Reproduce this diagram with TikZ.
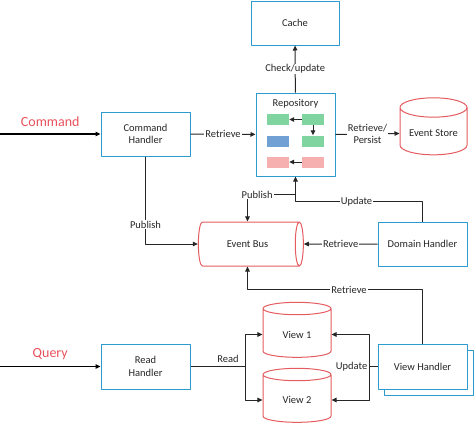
\documentclass[tikz,border=0pt]{standalone}
\usepackage{fontspec}
\setmainfont{Carlito}
\usetikzlibrary{shapes.geometric,shadows,arrows.meta}
\definecolor{boxblue}{RGB}{45,155,205}
\definecolor{cylred}{RGB}{228,92,96}
\definecolor{cmdred}{RGB}{232,82,92}
\definecolor{repgreen}{RGB}{128,212,160}
\definecolor{repblue}{RGB}{112,160,212}
\definecolor{reppink}{RGB}{246,176,176}
\begin{document}
\begin{tikzpicture}[x=1pt, y=-1pt, font=\fontsize{10.5}{12.5}\selectfont, line join=round, >={Triangle[length=5pt,width=4.5pt]},
		handler/.style={draw=boxblue, line width=1pt, fill=white, minimum width=89pt, minimum height=44pt, align=center, text=black!85},
		store/.style={draw=cylred, line width=1pt, fill=white, cylinder, shape border rotate=90, shape aspect=0.35, text=black!85},
		slot/.style={minimum width=22pt, minimum height=11pt, inner sep=0pt},
		link/.style={draw=black!85, line width=1pt},
		lbl/.style={fill=white, inner sep=1pt, text=black!85},
		entry/.style={draw=black, line width=1.8pt}]
	\useasboundingbox (0,0) rectangle (474,429);
	% handlers
	\node[handler] (cmdh) at (145.5,134) {Command\\Handler};
	\node[handler, minimum width=88pt] (cache) at (295,23) {Cache};
	\node[handler, minimum width=79pt, minimum height=83pt] (repo) at (295.5,134.5) {};
	\node[text=black!85] (repot) at (295.5,104) {Repository};
	\node[handler] (dom) at (422.5,244) {Domain Handler};
	\node[handler, minimum height=45pt] (readh) at (145.5,366.5) {Read\\Handler};
	\node[handler, minimum height=45pt, copy shadow={shadow xshift=6pt, shadow yshift=-6pt, draw=boxblue, line width=1pt}] (vh) at (422.5,366.5) {View Handler};
	% stores
	\node[store, minimum width=67pt, minimum height=57pt] (estore) at (433.5,133.5) {Event Store};
	\node[store, shape border rotate=0, shape aspect=0.6, minimum width=44pt, minimum height=105pt] (ebus) at (247.5,244) {Event Bus};
	\node[store, minimum width=68pt, minimum height=55pt] (view1) at (297,334.5) {View 1};
	\node[store, minimum width=68pt, minimum height=54pt] (view2) at (297,400) {View 2};
	% repository content
	\node[slot, fill=repgreen] (g1) at (278,119.5) {};
	\node[slot, fill=repgreen] (g2) at (313,119.5) {};
	\node[slot, fill=repblue] (b1) at (278,141) {};
	\node[slot, fill=repgreen] (g3) at (313,141) {};
	\node[slot, fill=reppink] (p1) at (278,162) {};
	\node[slot, fill=reppink] (p2) at (313,162) {};
	\draw[link, ->] (g2) -- (g1);
	\draw[link, ->] (g2) -- (g3);
	\draw[link, ->] (p2) -- (p1);
	% inputs
	\coordinate (cin) at (0,134);
	\coordinate (qin) at (0,366.5);
	\draw[entry, ->] (cin) -- node[above=3pt, text=cmdred, font=\fontsize{14}{16}\selectfont] {Command} (cmdh.west);
	\draw[entry, ->] (qin) -- node[above=3pt, text=cmdred, font=\fontsize{14}{16}\selectfont] {Query} (readh.west);
	% connectors
	\draw[link, ->] (cmdh) -- node[lbl] {Retrieve} (repo);
	\draw[link, ->] (repo) -- node[lbl] {Check/update} (cache);
	\draw[link, ->] (repo.east) -- node[lbl, align=center] {Retrieve/\\Persist} (estore.west);
	\draw[link, ->] (cmdh.south) |- node[lbl, pos=0.39] {Publish} (ebus.west);
	\draw[link, ->] (dom.north) |- node[lbl, pos=0.76] {Update} ([yshift=-25pt]repo.south) -- (repo.south);
	\draw[link, ->] ([yshift=-18pt]repo.south) -| node[lbl, pos=0.4] {Publish} (ebus.north);
	\draw[link, ->] (dom.west) -- node[lbl] {Retrieve} (ebus.east);
	\draw[link, ->] (vh.north) |- node[lbl, pos=0.71] {Retrieve} ([yshift=-23pt]ebus.south) -- (ebus.south);
	\draw[link] (readh.east) -- node[above, pos=0.68, text=black!85] {Read} ++(55,0) coordinate (rdj);
	\draw[link, ->] (rdj) |- (view1.west);
	\draw[link, ->] (rdj) |- (view2.west);
	\draw[link] (vh.west) -- ++(-8,0) coordinate (upj);
	\draw[link, ->] (upj) |- (view1.east);
	\draw[link, ->] (upj) |- (view2.east);
	\node[left, inner sep=2pt, text=black!85] (updt) at (upj) {Update};
\end{tikzpicture}
\end{document}
